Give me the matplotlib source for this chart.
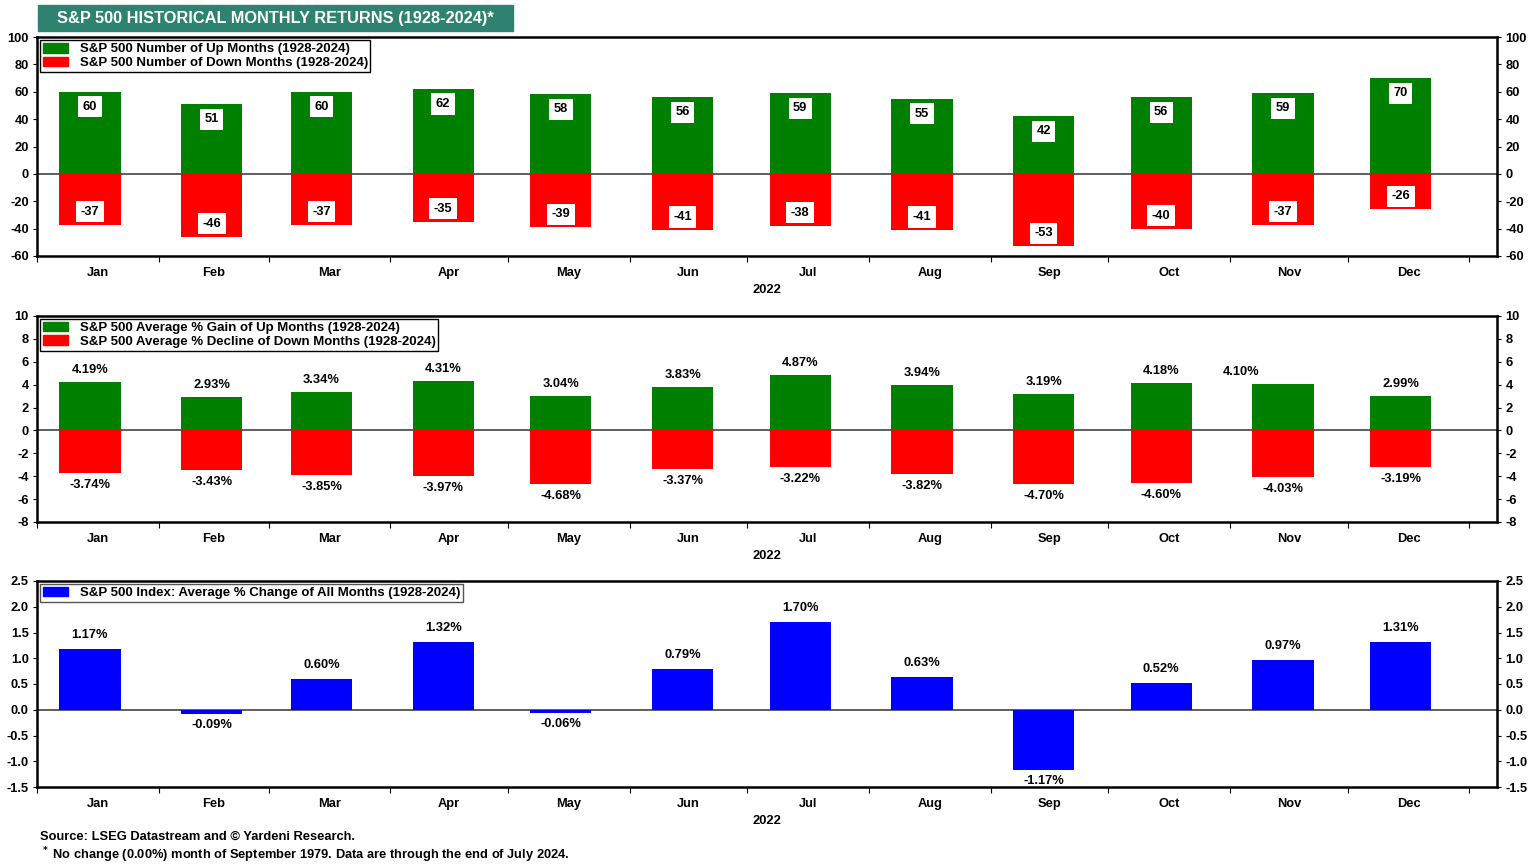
import numpy as np
import matplotlib
matplotlib.use("Agg")
import matplotlib.pyplot as plt
from matplotlib.patches import Rectangle, Patch

plt.rcParams['font.family'] = ['Liberation Sans', 'DejaVu Sans']
plt.rcParams['font.weight'] = 'bold'

months = ['Jan', 'Feb', 'Mar', 'Apr', 'May', 'Jun', 'Jul', 'Aug', 'Sep', 'Oct', 'Nov', 'Dec']
days_in_month = [31, 28, 31, 30, 31, 30, 31, 31, 30, 31, 30, 31]

up_months = [60, 51, 60, 62, 58, 56, 59, 55, 42, 56, 59, 70]
down_months = [-37, -46, -37, -35, -39, -41, -38, -41, -53, -40, -37, -26]

avg_gain = [4.19, 2.93, 3.34, 4.31, 3.04, 3.83, 4.87, 3.94, 3.19, 4.18, 4.10, 2.99]
avg_decline = [-3.74, -3.43, -3.85, -3.97, -4.68, -3.37, -3.22, -3.82, -4.70, -4.60, -4.03, -3.19]

avg_all = [1.17, -0.09, 0.60, 1.32, -0.06, 0.79, 1.70, 0.63, -1.17, 0.52, 0.97, 1.31]

GREEN = '#008000'
RED = '#ff0000'
BLUE = '#0000ff'
TEAL = '#2e8270'

FS = 9.3  # general text size

month_start = np.concatenate([[0], np.cumsum(days_in_month)[:-1]])
bar_x = month_start + 13.5
label_x = month_start + np.array(days_in_month) / 2
bounds = np.append(month_start, 365)
bar_w = 15.6

W, H = 1536, 868
fig = plt.figure(figsize=(W / 100, H / 100), dpi=100)


def px_axes(top, bottom, left=37, right=1497):
    return fig.add_axes([left / W, 1 - bottom / H, (right - left) / W, (bottom - top) / H])


def style_axis(ax, ylim, yticks, fmt):
    ax.set_xlim(0.65, 372.05)
    ax.set_ylim(*ylim)
    ax.set_yticks(yticks)
    ax.set_yticklabels([fmt.format(v) for v in yticks])
    ax.set_xticks(bounds)
    ax.set_xticklabels([])
    ax.set_xticks(label_x, minor=True)
    ax.set_xticklabels(months, minor=True)
    ax.tick_params(axis='x', which='major', length=4, width=0.8, direction='out')
    ax.tick_params(axis='x', which='minor', length=0, pad=8, labelsize=FS)
    ax.tick_params(axis='y', left=True, right=True, labelleft=True, labelright=True,
                   length=3, width=0.8, pad=3, labelsize=FS)
    for s in ax.spines.values():
        s.set_linewidth(1.8)
    ax.axhline(0, color='#333333', lw=1.1, zorder=1)
    ax.annotate('2022', xy=(0.5, 0), xycoords='axes fraction', xytext=(0, -34),
                textcoords='offset pixels', ha='center', va='center', fontsize=FS)


def add_legend(ax, handles, edge='black'):
    leg = ax.legend(handles=handles, loc='upper left', bbox_to_anchor=(0.002, 0.985),
                    borderaxespad=0, fancybox=False, framealpha=1, edgecolor=edge,
                    prop={'weight': 'bold', 'size': 9.5}, handlelength=1.9, handleheight=0.75,
                    handletextpad=0.9, labelspacing=0.1, borderpad=0.2)
    leg.get_frame().set_linewidth(1.0)


# panel 1: number of up / down months
ax1 = px_axes(37, 256)
ax1.bar(bar_x, up_months, width=bar_w, color=GREEN, zorder=2)
ax1.bar(bar_x, down_months, width=bar_w, color=RED, zorder=2)
style_axis(ax1, (-60, 100), np.arange(-60, 101, 20), '{:.0f}')
box = dict(boxstyle='square,pad=0.35', fc='white', ec='none')
for x, u, d in zip(bar_x, up_months, down_months):
    ax1.annotate(f'{u}', xy=(x, u), xytext=(0, -15), textcoords='offset pixels',
                 ha='center', va='center', fontsize=FS, bbox=box, zorder=3)
    ax1.annotate(f'{d}', xy=(x, d), xytext=(0, 13), textcoords='offset pixels',
                 ha='center', va='center', fontsize=FS, bbox=box, zorder=3)
add_legend(ax1, [Patch(color=GREEN, label='S&P 500 Number of Up Months (1928-2024)'),
                 Patch(color=RED, label='S&P 500 Number of Down Months (1928-2024)')])

# panel 2: average gain / decline
ax2 = px_axes(316, 522)
ax2.bar(bar_x, avg_gain, width=bar_w, color=GREEN, zorder=2)
ax2.bar(bar_x, avg_decline, width=bar_w, color=RED, zorder=2)
style_axis(ax2, (-8, 10), np.arange(-8, 11, 2), '{:.0f}')
for i, (x, g, d) in enumerate(zip(bar_x, avg_gain, avg_decline)):
    dx = -42 if months[i] == 'Nov' else 0
    ax2.annotate(f'{g:.2f}%', xy=(x, g), xytext=(dx, 6), textcoords='offset pixels',
                 ha='center', va='bottom', fontsize=FS)
    ax2.annotate(f'{d:.2f}%', xy=(x, d), xytext=(0, -6), textcoords='offset pixels',
                 ha='center', va='top', fontsize=FS)
add_legend(ax2, [Patch(color=GREEN, label='S&P 500 Average % Gain of Up Months (1928-2024)'),
                 Patch(color=RED, label='S&P 500 Average % Decline of Down Months (1928-2024)')])

# panel 3: average change of all months
ax3 = px_axes(581, 787)
ax3.bar(bar_x, avg_all, width=bar_w, color=BLUE, zorder=2)
style_axis(ax3, (-1.5, 2.5), np.arange(-1.5, 2.51, 0.5), '{:.1f}')
for x, v in zip(bar_x, avg_all):
    if v >= 0:
        ax3.annotate(f'{v:.2f}%', xy=(x, v), xytext=(0, 8), textcoords='offset pixels',
                     ha='center', va='bottom', fontsize=FS)
    else:
        ax3.annotate(f'{v:.2f}%', xy=(x, v), xytext=(0, -5), textcoords='offset pixels',
                     ha='center', va='top', fontsize=FS)
add_legend(ax3, [Patch(color=BLUE, label='S&P 500 Index: Average % Change of All Months (1928-2024)')],
           edge='#555555')

# title banner
fig.patches.append(Rectangle((38 / W, 1 - 31 / H), (513 - 38) / W, 26 / H,
                             transform=fig.transFigure, color=TEAL, zorder=0))
fig.text((38 + 513) / 2 / W, 1 - 18 / H, 'S&P 500 HISTORICAL MONTHLY RETURNS (1928-2024)*',
         color='white', ha='center', va='center', fontsize=11.8, weight='bold')

# footnotes
fig.text(40 / W, 1 - 837 / H, 'Source: LSEG Datastream and \u00a9 Yardeni Research.',
         ha='left', va='center', fontsize=FS)
fig.text(40 / W, 1 - 855 / H,
         '$^*$ No change (0.00%) month of September 1979. Data are through the end of July 2024.',
         ha='left', va='center', fontsize=FS)

fig.savefig('out.png', dpi=100)
